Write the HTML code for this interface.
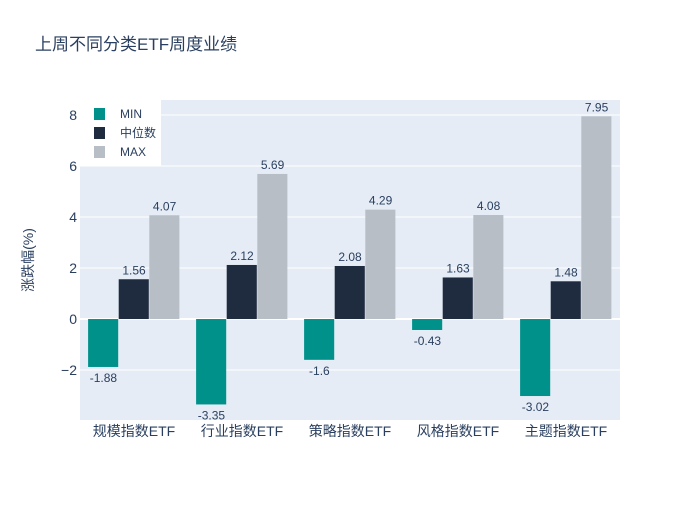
<!DOCTYPE html>
<html><head><meta charset="utf-8"><style>
body{margin:0;background:#fff;}
svg text{font-family:"Liberation Sans","Noto Sans CJK SC",sans-serif;}
</style></head><body>
<svg id="c" width="700" height="500" xmlns="http://www.w3.org/2000/svg">
<rect width="700" height="500" fill="#fff"/>
<text x="35" y="50" font-size="17" fill="#2a3f5f">上周不同分类ETF周度业绩</text>
<rect x="80" y="100" width="540" height="320" fill="#e5ecf6"/>
<g id="grid"></g><g id="bars"></g><g id="labels"></g>
<text transform="translate(33,260) rotate(-90)" text-anchor="middle" font-size="14" fill="#2a3f5f">涨跌幅(%)</text>
<g id="legend"></g>
</svg>
<script>
const categories=["规模指数ETF","行业指数ETF","策略指数ETF","风格指数ETF","主题指数ETF"];
const seriesNames=["MIN","中位数","MAX"];
const minVals=[-1.88,-3.35,-1.6,-0.43,-3.02];
const medVals=[1.56,2.12,2.08,1.63,1.48];
const maxVals=[4.07,5.69,4.29,4.08,7.95];
const yTicks=[-2,0,2,4,6,8];
const colors=["#00918a","#1f2b3f","#b8bec6"];
const NS="http://www.w3.org/2000/svg";
const X0=80,W=540,Y0=100,H=320,yMin=-3.96,yMax=8.59;
const y=v=>Y0+H*(yMax-v)/(yMax-yMin);
const band=W/categories.length, bw=band*0.85/3;
function mk(t,a,p){const e=document.createElementNS(NS,t);for(const k in a)e.setAttribute(k,a[k]);document.getElementById(p).appendChild(e);return e;}
yTicks.forEach(t=>{
 const l=mk('line',{x1:X0,x2:X0+W,y1:y(t),y2:y(t),stroke:'#fff','stroke-width':t===0?2:1},'grid');
 
 
 const tx=mk('text',{x:X0-3,y:y(t)+5,'text-anchor':'end','font-size':14,fill:'#2a3f5f'},'grid');
 tx.textContent=t<0?'−'+Math.abs(t):t;
 
 
});
const series=[minVals,medVals,maxVals];
categories.forEach((c,i)=>{
 const left=X0+band*i+band*0.075;
 series.forEach((s,j)=>{
  const v=s[i],bx=left+bw*j;
  const r=mk('rect',{x:bx,y:Math.min(y(v),y(0)),width:bw-0.5,height:Math.abs(y(v)-y(0)),fill:colors[j]},'bars');
  
  
  const t=mk('text',{x:bx+bw/2,y:v>=0?y(v)-5:y(v)+15,'text-anchor':'middle','font-size':12,fill:'#2a3f5f'},'labels');
  t.textContent=v;
  
  
 });
 const ct=mk('text',{x:X0+band*(i+0.5),y:436,'text-anchor':'middle','font-size':14,fill:'#2a3f5f'},'labels');
 ct.textContent=c;
 
 
});
const lb=mk('rect',{x:80,y:100,width:81,height:66,fill:'#fff'},'legend');


seriesNames.forEach((n,j)=>{
 const cy=114+19*j;
 const s=mk('rect',{x:94,y:cy-6,width:11,height:12,fill:colors[j]},'legend');
 
 
 const t=mk('text',{x:120,y:cy+4,'font-size':12,fill:'#2a3f5f'},'legend');
 t.textContent=n;
 
 
});
</script>
</body></html>
